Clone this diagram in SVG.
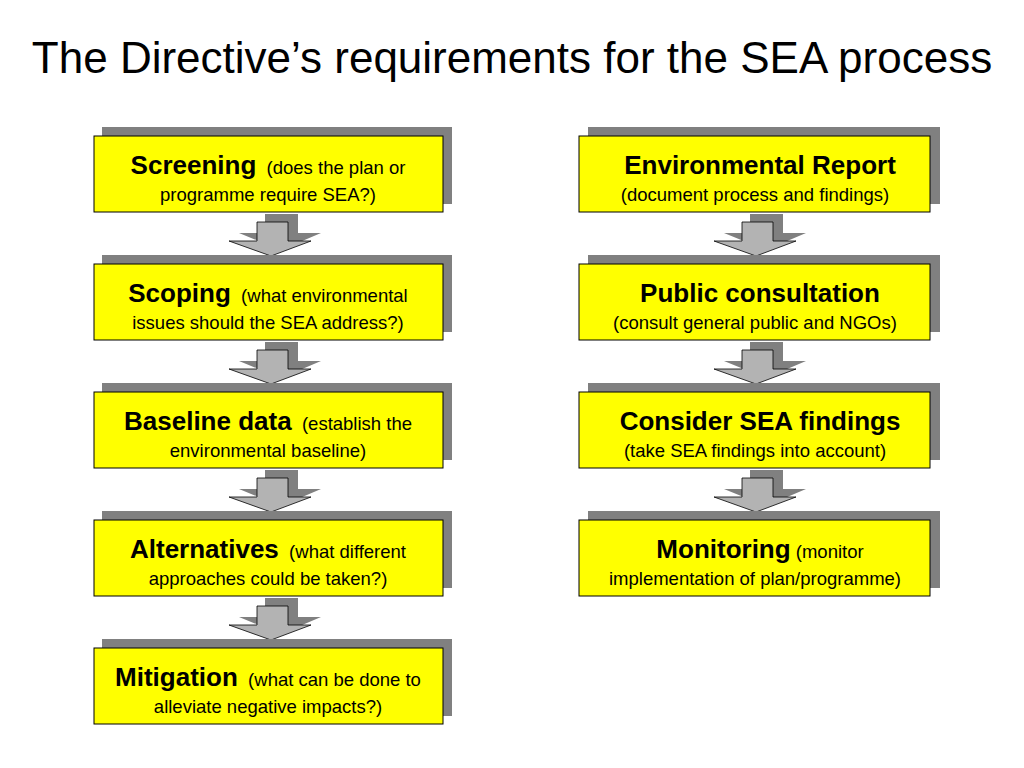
<svg xmlns="http://www.w3.org/2000/svg" width="1024" height="768" viewBox="0 0 1024 768">
<defs>
<style>
.t{font-family:"Liberation Sans",Arial,sans-serif;fill:#000}
.b{font-weight:bold;font-size:26px}
.n{font-size:18.5px}
.sh{fill:#808080}
.bx{fill:#ffff00;stroke:#000;stroke-width:1}
.ar{fill:#b3b3b3;stroke:#000;stroke-width:0.8}
</style>
<g id="arr">
<polygon class="sh" points="-6,-15 27,-15 27,4 50,4 10,21 -32,4 -6,4"/>
<polygon class="ar" points="-14,-7 17,-7 17,12 40,12 0,27 -42,12 -14,12"/>
</g>
</defs>
<rect width="1024" height="768" fill="#fff"/>
<text class="t" x="512" y="73" font-size="44" text-anchor="middle">The Directive’s requirements for the SEA process</text>
<g id="connectors">
<use href="#arr" x="271" y="229"/>
<use href="#arr" x="271" y="357"/>
<use href="#arr" x="271" y="485"/>
<use href="#arr" x="271" y="613"/>
<use href="#arr" x="756" y="229"/>
<use href="#arr" x="756" y="357"/>
<use href="#arr" x="756" y="485"/>
</g>
<g id="screening"><rect class="sh" x="102" y="127" width="350" height="77"/><rect class="bx" x="94" y="136" width="349" height="76"/>
<text class="t" x="268" y="174" text-anchor="middle" xml:space="preserve"><tspan class="b">Screening</tspan><tspan class="n">  (does the plan or</tspan></text>
<text class="t n" x="268" y="201" text-anchor="middle">programme require SEA?)</text></g>
<g id="scoping"><rect class="sh" x="102" y="255" width="350" height="77"/><rect class="bx" x="94" y="264" width="349" height="76"/>
<text class="t" x="268" y="302" text-anchor="middle" xml:space="preserve"><tspan class="b">Scoping</tspan><tspan class="n">  (what environmental</tspan></text>
<text class="t n" x="268" y="329" text-anchor="middle">issues should the SEA address?)</text></g>
<g id="baseline"><rect class="sh" x="102" y="383" width="350" height="77"/><rect class="bx" x="94" y="392" width="349" height="76"/>
<text class="t" x="268" y="430" text-anchor="middle" xml:space="preserve"><tspan class="b">Baseline data</tspan><tspan class="n">  (establish the</tspan></text>
<text class="t n" x="268" y="457" text-anchor="middle">environmental baseline)</text></g>
<g id="alternatives"><rect class="sh" x="102" y="511" width="350" height="77"/><rect class="bx" x="94" y="520" width="349" height="76"/>
<text class="t" x="268" y="558" text-anchor="middle" xml:space="preserve"><tspan class="b">Alternatives</tspan><tspan class="n">  (what different</tspan></text>
<text class="t n" x="268" y="585" text-anchor="middle">approaches could be taken?)</text></g>
<g id="mitigation"><rect class="sh" x="102" y="639" width="350" height="77"/><rect class="bx" x="94" y="648" width="349" height="76"/>
<text class="t" x="268" y="686" text-anchor="middle" xml:space="preserve"><tspan class="b">Mitigation</tspan><tspan class="n">  (what can be done to</tspan></text>
<text class="t n" x="268" y="713" text-anchor="middle">alleviate negative impacts?)</text></g>
<g id="report"><rect class="sh" x="588" y="127" width="352" height="77"/><rect class="bx" x="579" y="136" width="351" height="76"/>
<text class="t b" x="760" y="174" text-anchor="middle">Environmental Report</text>
<text class="t n" x="755" y="201" text-anchor="middle">(document process and findings)</text></g>
<g id="consultation"><rect class="sh" x="588" y="255" width="352" height="77"/><rect class="bx" x="579" y="264" width="351" height="76"/>
<text class="t b" x="760" y="302" text-anchor="middle">Public consultation</text>
<text class="t n" x="755" y="329" text-anchor="middle">(consult general public and NGOs)</text></g>
<g id="findings"><rect class="sh" x="588" y="383" width="352" height="77"/><rect class="bx" x="579" y="392" width="351" height="76"/>
<text class="t b" x="760" y="430" text-anchor="middle">Consider SEA findings</text>
<text class="t n" x="755" y="457" text-anchor="middle">(take SEA findings into account)</text></g>
<g id="monitoring"><rect class="sh" x="588" y="511" width="352" height="77"/><rect class="bx" x="579" y="520" width="351" height="76"/>
<text class="t" x="760" y="558" text-anchor="middle" xml:space="preserve"><tspan class="b">Monitoring</tspan><tspan class="n"> (monitor</tspan></text>
<text class="t n" x="755" y="585" text-anchor="middle">implementation of plan/programme)</text></g>
</svg>
